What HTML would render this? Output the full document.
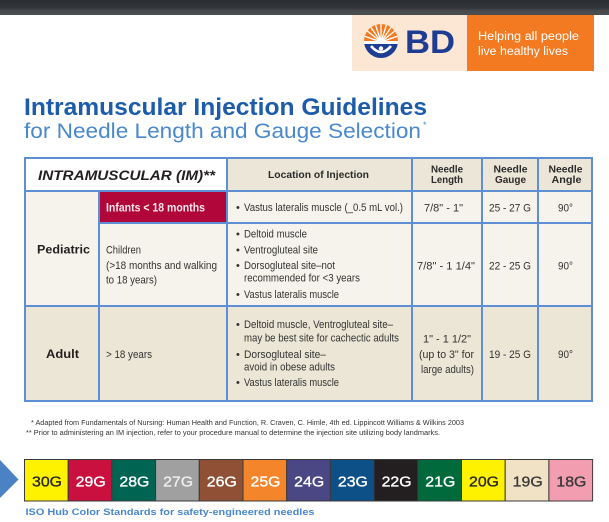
<!DOCTYPE html>
<html><head><meta charset="utf-8"><style>
html,body{margin:0;padding:0;background:#fff;}
svg{display:block;}
text{font-family:"Liberation Sans",Arial,sans-serif;}
</style></head><body>
<svg width="609" height="522" viewBox="0 0 609 522" xmlns="http://www.w3.org/2000/svg">
<defs>
<linearGradient id="bar" x1="0" y1="0" x2="0" y2="1">
<stop offset="0" stop-color="#2b2e30"/><stop offset="0.55" stop-color="#33363a"/><stop offset="0.7" stop-color="#474a4d"/><stop offset="1" stop-color="#4b4e51"/>
</linearGradient>
<clipPath id="logo"><circle cx="381" cy="41" r="17"/></clipPath>
</defs>
<rect x="0" y="0" width="609" height="522" fill="#fff"/>
<rect x="0" y="0" width="609" height="15" fill="url(#bar)"/>

<!-- BD header -->
<rect x="352" y="15" width="115" height="56" fill="#fce6d4"/>
<rect x="467" y="15" width="127" height="56" fill="#f47a22"/>
<g clip-path="url(#logo)">
<rect x="363" y="23" width="36" height="19" fill="#f47a22"/>
<g stroke="#fff" stroke-width="1.3">
<line x1="381" y1="42" x2="364" y2="36"/><line x1="381" y1="42" x2="366" y2="30"/>
<line x1="381" y1="42" x2="370" y2="26"/><line x1="381" y1="42" x2="375" y2="23"/>
<line x1="381" y1="42" x2="381" y2="22"/><line x1="381" y1="42" x2="387" y2="23"/>
<line x1="381" y1="42" x2="392" y2="26"/><line x1="381" y1="42" x2="396" y2="30"/>
<line x1="381" y1="42" x2="398" y2="36"/>
</g>
<circle cx="381" cy="42" r="4" fill="#fff"/>
<rect x="363" y="41" width="36" height="3" fill="#fff"/>
<rect x="363" y="44" width="36" height="16" fill="#1d3d92"/>
<path d="M371 46 Q381 58 391 46" stroke="#fff" stroke-width="2.6" fill="none"/>
<circle cx="381" cy="48.5" r="2.2" fill="#fff"/>
</g>
<text x="405" y="53" font-size="32" font-weight="bold" fill="#1d3d92" textLength="50" lengthAdjust="spacingAndGlyphs">BD</text>
<text x="478" y="40" font-size="11.5" fill="#fff" textLength="101" lengthAdjust="spacingAndGlyphs">Helping all people</text>
<text x="478" y="55" font-size="11.5" fill="#fff" textLength="90" lengthAdjust="spacingAndGlyphs">live healthy lives</text>

<!-- Title -->
<text x="24" y="115" font-size="24" font-weight="bold" fill="#1c5caa" textLength="403" lengthAdjust="spacingAndGlyphs">Intramuscular Injection Guidelines</text>
<text x="24" y="138" font-size="21.5" fill="#4a88cd" textLength="397" lengthAdjust="spacingAndGlyphs">for Needle Length and Gauge Selection</text>
<text x="423" y="128" font-size="9" fill="#4a88cd">*</text>

<!-- Table backgrounds -->
<rect x="25" y="158" width="202" height="33" fill="#fff"/>
<rect x="227" y="158" width="365" height="33" fill="#ebe6d7"/>
<rect x="25" y="191" width="567" height="115" fill="#f5f3eb"/>
<rect x="99" y="191" width="128" height="32" fill="#b1063a"/>
<rect x="25" y="306" width="567" height="95" fill="#ebe6d5"/>

<!-- Table lines -->
<g stroke="#5e8fd4" stroke-width="2" fill="none">
<rect x="25" y="158" width="567" height="243"/>
<line x1="25" y1="191" x2="592" y2="191"/>
<line x1="99" y1="223" x2="592" y2="223"/>
<line x1="25" y1="306" x2="592" y2="306"/>
<line x1="99" y1="191" x2="99" y2="401"/>
<line x1="227" y1="158" x2="227" y2="401"/>
<line x1="412" y1="158" x2="412" y2="401"/>
<line x1="482" y1="158" x2="482" y2="401"/>
<line x1="538" y1="158" x2="538" y2="401"/>
</g>

<!-- Header text -->
<text x="38" y="180" font-size="13.5" font-weight="bold" font-style="italic" fill="#231f20" textLength="177" lengthAdjust="spacingAndGlyphs">INTRAMUSCULAR (IM)**</text>
<g font-size="10.5" font-weight="bold" fill="#2b2b2b">
<text x="268" y="178" textLength="101" lengthAdjust="spacingAndGlyphs">Location of Injection</text>
<text x="431" y="172.5" textLength="32" lengthAdjust="spacingAndGlyphs">Needle</text>
<text x="431" y="183" textLength="32" lengthAdjust="spacingAndGlyphs">Length</text>
<text x="493.5" y="172.5" textLength="34" lengthAdjust="spacingAndGlyphs">Needle</text>
<text x="495" y="183" textLength="31" lengthAdjust="spacingAndGlyphs">Gauge</text>
<text x="548.5" y="172.5" textLength="34" lengthAdjust="spacingAndGlyphs">Needle</text>
<text x="551.5" y="183" textLength="30" lengthAdjust="spacingAndGlyphs">Angle</text>
</g>

<!-- Row 1 -->
<text x="106" y="211.5" font-size="11.5" font-weight="bold" fill="#f6e6ea" textLength="99" lengthAdjust="spacingAndGlyphs">Infants &lt; 18 months</text>
<g font-size="11" fill="#333">
<text x="236" y="211">•</text>
<text x="244" y="211" textLength="159" lengthAdjust="spacingAndGlyphs">Vastus lateralis muscle (_0.5 mL vol.)</text>
<text x="424" y="211.5" textLength="39" lengthAdjust="spacingAndGlyphs">7/8" - 1"</text>
<text x="489" y="211.5" textLength="42" lengthAdjust="spacingAndGlyphs">25 - 27 G</text>
<text x="558" y="211.5" textLength="15" lengthAdjust="spacingAndGlyphs">90°</text>
</g>

<!-- Row 2 -->
<text x="37" y="253.3" font-size="12" font-weight="bold" fill="#231f20" textLength="53" lengthAdjust="spacingAndGlyphs">Pediatric</text>
<g font-size="11" fill="#333">
<text x="106" y="253.3" textLength="35" lengthAdjust="spacingAndGlyphs">Children</text>
<text x="106" y="269" textLength="111" lengthAdjust="spacingAndGlyphs">(&gt;18 months and walking</text>
<text x="106" y="283.5" textLength="51" lengthAdjust="spacingAndGlyphs">to 18 years)</text>
<text x="236" y="237.5">•</text>
<text x="244" y="237.5" textLength="63" lengthAdjust="spacingAndGlyphs">Deltoid muscle</text>
<text x="236" y="253.3">•</text>
<text x="244" y="253.3" textLength="74" lengthAdjust="spacingAndGlyphs">Ventrogluteal site</text>
<text x="236" y="269">•</text>
<text x="244" y="269" textLength="91" lengthAdjust="spacingAndGlyphs">Dorsogluteal site–not</text>
<text x="244" y="281.7" textLength="116" lengthAdjust="spacingAndGlyphs">recommended for &lt;3 years</text>
<text x="236" y="298">•</text>
<text x="244" y="298" textLength="95" lengthAdjust="spacingAndGlyphs">Vastus lateralis muscle</text>
<text x="417" y="269.3" textLength="58" lengthAdjust="spacingAndGlyphs">7/8" - 1 1/4"</text>
<text x="489" y="269.3" textLength="42" lengthAdjust="spacingAndGlyphs">22 - 25 G</text>
<text x="558" y="269.3" textLength="15" lengthAdjust="spacingAndGlyphs">90°</text>
</g>

<!-- Row 3 -->
<text x="46" y="358" font-size="12" font-weight="bold" fill="#231f20" textLength="33" lengthAdjust="spacingAndGlyphs">Adult</text>
<g font-size="11" fill="#333">
<text x="106" y="358" textLength="46" lengthAdjust="spacingAndGlyphs">&gt; 18 years</text>
<text x="236" y="328">•</text>
<text x="244" y="328" textLength="149" lengthAdjust="spacingAndGlyphs">Deltoid muscle, Ventrogluteal site–</text>
<text x="244" y="341.7" textLength="155" lengthAdjust="spacingAndGlyphs">may be best site for cachectic adults</text>
<text x="236" y="358">•</text>
<text x="244" y="358" textLength="82" lengthAdjust="spacingAndGlyphs">Dorsogluteal site–</text>
<text x="244" y="370.7" textLength="91" lengthAdjust="spacingAndGlyphs">avoid in obese adults</text>
<text x="236" y="386">•</text>
<text x="244" y="386" textLength="95" lengthAdjust="spacingAndGlyphs">Vastus lateralis muscle</text>
<text x="423" y="342.7" textLength="48" lengthAdjust="spacingAndGlyphs">1" - 1 1/2"</text>
<text x="419" y="358" textLength="55" lengthAdjust="spacingAndGlyphs">(up to 3" for</text>
<text x="421" y="373" textLength="53" lengthAdjust="spacingAndGlyphs">large adults)</text>
<text x="489" y="358" textLength="42" lengthAdjust="spacingAndGlyphs">19 - 25 G</text>
<text x="558" y="358" textLength="15" lengthAdjust="spacingAndGlyphs">90°</text>
</g>

<!-- Footnotes -->
<g font-size="7" fill="#333">
<text x="31" y="425" textLength="433" lengthAdjust="spacingAndGlyphs">* Adapted from Fundamentals of Nursing: Human Health and Function, R. Craven, C. Himle, 4th ed. Lippincott Williams &amp; Wilkins 2003</text>
<text x="26" y="435" textLength="414" lengthAdjust="spacingAndGlyphs">** Prior to administering an IM injection, refer to your procedure manual to determine the injection site utilizing body landmarks.</text>
</g>

<!-- Arrow -->
<polygon points="0,460 18.5,479.5 0,498" fill="#4a82c4"/>

<!-- Color bar -->
<g stroke="#3a3a3a" stroke-width="1">
<rect x="24.5" y="459.5" width="43.7" height="41.5" fill="#fff200"/>
<rect x="68.2" y="459.5" width="43.7" height="41.5" fill="#c9103f"/>
<rect x="111.9" y="459.5" width="43.7" height="41.5" fill="#006452"/>
<rect x="155.6" y="459.5" width="43.7" height="41.5" fill="#a0a0a0"/>
<rect x="199.3" y="459.5" width="43.7" height="41.5" fill="#8f5036"/>
<rect x="243.0" y="459.5" width="43.7" height="41.5" fill="#f4852a"/>
<rect x="286.7" y="459.5" width="43.7" height="41.5" fill="#4b4785"/>
<rect x="330.4" y="459.5" width="43.7" height="41.5" fill="#0d5088"/>
<rect x="374.1" y="459.5" width="43.7" height="41.5" fill="#231f20"/>
<rect x="417.8" y="459.5" width="43.7" height="41.5" fill="#006a3c"/>
<rect x="461.5" y="459.5" width="43.7" height="41.5" fill="#fff200"/>
<rect x="505.2" y="459.5" width="43.7" height="41.5" fill="#f2e2c5"/>
<rect x="548.9" y="459.5" width="43.7" height="41.5" fill="#f29db0"/>
</g>
<g font-size="15" text-anchor="start">
<text x="32" y="486.5" fill="#2a2a2a" stroke="#2a2a2a" stroke-width="0.35" textLength="30" lengthAdjust="spacingAndGlyphs">30G</text>
<text x="75.7" y="486.5" fill="#fff" stroke="#fff" stroke-width="0.35" textLength="30" lengthAdjust="spacingAndGlyphs">29G</text>
<text x="119.4" y="486.5" fill="#fff" stroke="#fff" stroke-width="0.35" textLength="30" lengthAdjust="spacingAndGlyphs">28G</text>
<text x="163.1" y="486.5" fill="#eee" stroke="#eee" stroke-width="0.35" textLength="30" lengthAdjust="spacingAndGlyphs">27G</text>
<text x="206.8" y="486.5" fill="#fff" stroke="#fff" stroke-width="0.35" textLength="30" lengthAdjust="spacingAndGlyphs">26G</text>
<text x="250.5" y="486.5" fill="#fff" stroke="#fff" stroke-width="0.35" textLength="30" lengthAdjust="spacingAndGlyphs">25G</text>
<text x="294.2" y="486.5" fill="#fff" stroke="#fff" stroke-width="0.35" textLength="30" lengthAdjust="spacingAndGlyphs">24G</text>
<text x="337.9" y="486.5" fill="#fff" stroke="#fff" stroke-width="0.35" textLength="30" lengthAdjust="spacingAndGlyphs">23G</text>
<text x="381.6" y="486.5" fill="#fff" stroke="#fff" stroke-width="0.35" textLength="30" lengthAdjust="spacingAndGlyphs">22G</text>
<text x="425.3" y="486.5" fill="#fff" stroke="#fff" stroke-width="0.35" textLength="30" lengthAdjust="spacingAndGlyphs">21G</text>
<text x="469" y="486.5" fill="#2a2a2a" stroke="#2a2a2a" stroke-width="0.35" textLength="30" lengthAdjust="spacingAndGlyphs">20G</text>
<text x="512.7" y="486.5" fill="#3a3a3a" stroke="#3a3a3a" stroke-width="0.35" textLength="30" lengthAdjust="spacingAndGlyphs">19G</text>
<text x="556.4" y="486.5" fill="#3a3a3a" stroke="#3a3a3a" stroke-width="0.35" textLength="30" lengthAdjust="spacingAndGlyphs">18G</text>
</g>
<text x="25.5" y="515" font-size="9.5" font-weight="bold" fill="#4a88cd" textLength="289" lengthAdjust="spacingAndGlyphs">ISO Hub Color Standards for safety-engineered needles</text>
</svg>
</body></html>
